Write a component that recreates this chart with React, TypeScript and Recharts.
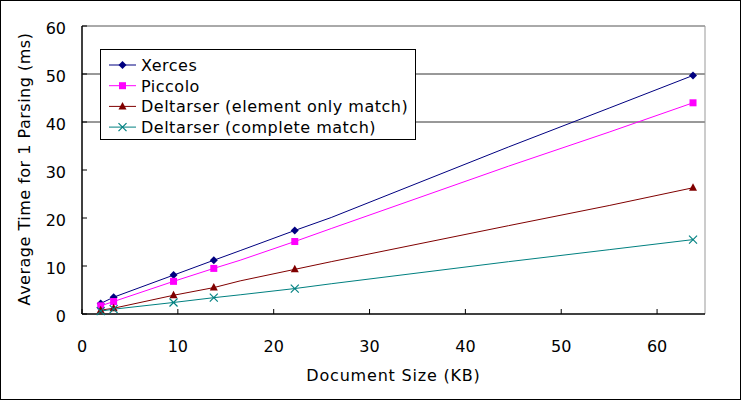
import { Legend, Line, LineChart, ReferenceLine, XAxis, YAxis } from "recharts";

// document size (KB) of each measurement
const sizes = [1.95, 3.3, 9.55, 13.75, 16.5, 22.2, 26, 44.5, 55, 63.75];
// which measurements carry a marker
const marked = [true, true, true, true, false, true, false, false, false, true];
const xerces = [2.2, 3.5, 8.1, 11.2, 13.2, 17.4, 20.1, 34.8, 42.9, 49.7];
const piccolo = [1.7, 2.6, 6.8, 9.5, 11.2, 15.1, 17.8, 30.8, 37.9, 44.0];
const elementOnly = [0.8, 1.2, 3.9, 5.5, 6.9, 9.3, 10.9, 18.4, 22.6, 26.3];
const completeMatch = [0.6, 1.0, 2.4, 3.4, 4.0, 5.3, 6.3, 10.9, 13.4, 15.5];

const xTicks = [0, 10, 20, 30, 40, 50, 60];
const yTicks = [0, 10, 20, 30, 40, 50, 60];

const FONT = "'DejaVu Sans', sans-serif";

const data = sizes.map((size, i) => ({
  size,
  marked: marked[i],
  xerces: xerces[i],
  piccolo: piccolo[i],
  elementOnly: elementOnly[i],
  completeMatch: completeMatch[i],
}));

const series = [
  { key: "xerces", name: "Xerces", color: "#000080", shape: "diamond" },
  { key: "piccolo", name: "Piccolo", color: "#FF00FF", shape: "square" },
  { key: "elementOnly", name: "Deltarser (element only match)", color: "#800000", shape: "triangle" },
  { key: "completeMatch", name: "Deltarser (complete match)", color: "#008080", shape: "cross" },
];

const Marker = ({ shape, color, cx, cy }) => {
  if (shape === "diamond")
    return <polygon points={`${cx},${cy - 4} ${cx + 4},${cy} ${cx},${cy + 4} ${cx - 4},${cy}`} fill={color} />;
  if (shape === "square") return <rect x={cx - 3.5} y={cy - 3.5} width={7} height={7} fill={color} />;
  if (shape === "triangle")
    return <polygon points={`${cx},${cy - 4.5} ${cx + 4},${cy + 3} ${cx - 4},${cy + 3}`} fill={color} />;
  return (
    <g stroke={color} strokeWidth={1.2}>
      <line x1={cx - 4} y1={cy - 4} x2={cx + 4} y2={cy + 4} />
      <line x1={cx - 4} y1={cy + 4} x2={cx + 4} y2={cy - 4} />
    </g>
  );
};

const makeDot = (shape, color) => (props) => {
  const { cx, cy, payload, index } = props;
  if (!payload.marked) return <g key={`d-${index}`} />;
  return (
    <g key={`d-${index}`}>
      <Marker shape={shape} color={color} cx={cx} cy={cy} />
    </g>
  );
};

const XTick = ({ x, y, payload }) => (
  <g>
    <line x1={x} x2={x} y1={y} y2={y - 5} stroke="#000" />
    <text x={x} y={y + 38} textAnchor="middle" fontSize={16} fontFamily={FONT} fill="#000">
      {payload.value}
    </text>
  </g>
);

const YTick = ({ x, y, payload }) => (
  <g>
    <line x1={x} x2={x + 5} y1={y} y2={y} stroke="#000" />
    <text x={x - 16} y={y + 8} textAnchor="end" fontSize={16} fontFamily={FONT} fill="#000">
      {payload.value}
    </text>
  </g>
);

const LegendBox = () => (
  <svg width={316} height={91}>
    <rect x={0.5} y={0.5} width={315} height={90} fill="#fff" stroke="#000" />
    {series.map((s, i) => {
      const cy = 16 + i * 20.7;
      return (
        <g key={s.key}>
          <line x1={9} x2={36} y1={cy} y2={cy} stroke={s.color} />
          <Marker shape={s.shape} color={s.color} cx={22.5} cy={cy} />
          <text x={41} y={cy + 6} fontSize={16} letterSpacing={0.5} fontFamily={FONT} fill="#000">
            {s.name}
          </text>
        </g>
      );
    })}
  </svg>
);

export default function App() {
  return (
    <div style={{ position: "absolute", left: 0, top: 0, width: 742, height: 402, background: "#fff" }}>
      <div
        style={{
          position: "absolute",
          left: 0,
          top: 0,
          width: 741,
          height: 400,
          border: "1.5px solid #000",
          boxSizing: "border-box",
        }}
      />
      <LineChart width={742} height={402} data={data} margin={{ top: 26, right: 37, bottom: 0, left: 0 }}>
        <XAxis
          dataKey="size"
          type="number"
          domain={[0, 65]}
          ticks={xTicks}
          height={88}
          tickSize={0}
          tickMargin={0}
          tick={XTick}
          axisLine={{ stroke: "#000", strokeWidth: 1.5 }}
          tickLine={false}
          label={{
            content: () => (
              <text
                x={393.5}
                y={381}
                textAnchor="middle"
                fontSize={16}
                letterSpacing={0.8}
                fontFamily={FONT}
                fill="#000"
              >
                Document Size (KB)
              </text>
            ),
          }}
        />
        <YAxis
          type="number"
          domain={[0, 60]}
          ticks={yTicks}
          width={82}
          tickSize={0}
          tickMargin={0}
          tick={YTick}
          axisLine={{ stroke: "#000", strokeWidth: 1.5 }}
          tickLine={false}
          label={{
            content: () => (
              <text
                x={30}
                y={169}
                transform="rotate(-90 30 169)"
                textAnchor="middle"
                fontSize={16}
                letterSpacing={0.5}
                fontFamily={FONT}
                fill="#000"
              >
                Average Time for 1 Parsing (ms)
              </text>
            ),
          }}
        />
        <ReferenceLine y={40} stroke="#333" />
        <ReferenceLine y={50} stroke="#333" />
        <ReferenceLine y={60} stroke="#555" />
        <ReferenceLine x={65} stroke="#999" />
        {series.map((s) => (
          <Line
            key={s.key}
            dataKey={s.key}
            name={s.name}
            stroke={s.color}
            strokeWidth={1}
            dot={makeDot(s.shape, s.color)}
            activeDot={false}
            isAnimationActive={false}
          />
        ))}
        <Legend
          layout="vertical"
          align="center"
          verticalAlign="middle"
          content={LegendBox}
          wrapperStyle={{ position: "absolute", left: 100, top: 49, width: 316, height: 91 }}
        />
      </LineChart>
    </div>
  );
}
